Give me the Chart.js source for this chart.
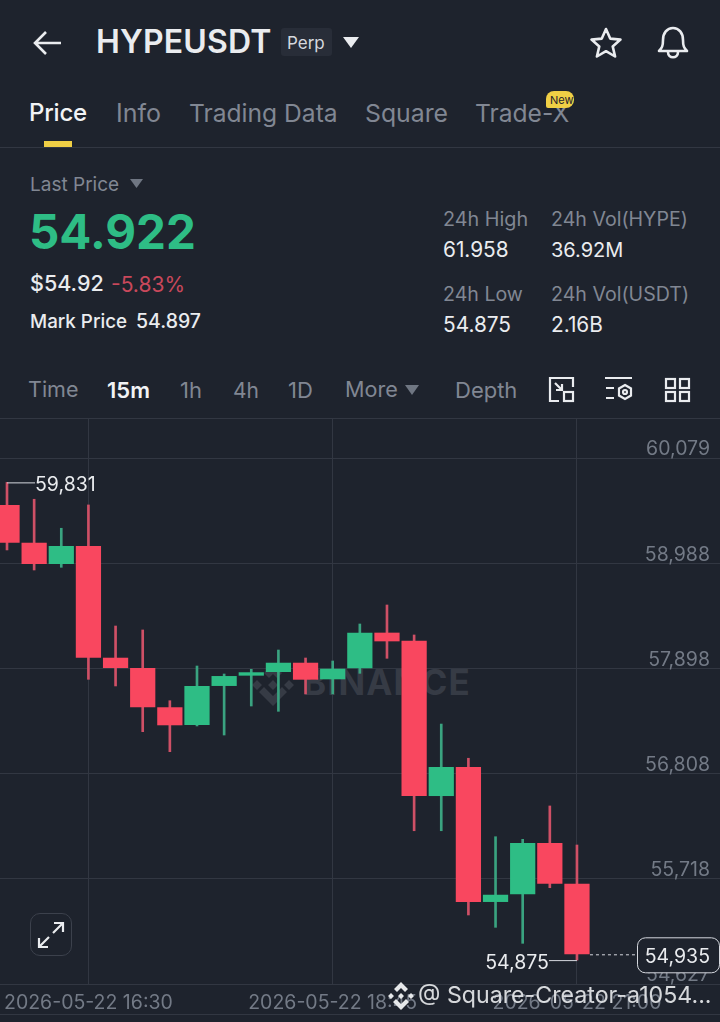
<!DOCTYPE html>
<html>
<head>
<meta charset="utf-8">
<title>HYPEUSDT Perp</title>
<script src="https://cdn.jsdelivr.net/npm/chart.js@4"></script>
<style>
  html, body { margin: 0; padding: 0; background: #1e232d; }
  body { position: relative; width: 720px; height: 1022px; overflow: hidden; font-family: Inter, "Noto Sans", sans-serif; color: #eaecef; }
  .t { position: absolute; white-space: nowrap; line-height: 1; transform: translateY(-50%); }
  .grey { color: #818793; }
  .line { position: absolute; left: 0; width: 720px; height: 1px; background: #323742; }
  svg { position: absolute; overflow: visible; }
  #wrap { position: absolute; left: 0; top: 418px; width: 720px; height: 596px; }
  #mark { position: absolute; left: 303px; top: 682px; font-size: 35px; font-weight: 700; letter-spacing: 1.2px; color: #363b45; transform: translateY(-50%); line-height: 1; }
</style>
</head>
<body>
  <!-- header -->
  <svg style="left:33px;top:30px" width="28" height="26" fill="none" stroke="#eaecef" stroke-width="2.6"><path d="M28 13H2M13 2L2 13l11 11"/></svg>
  <div class="t" style="left:96px;top:42px;font-size:32px;font-weight:600;letter-spacing:.15px">HYPEUSDT</div>
  <div style="position:absolute;left:281px;top:28px;width:51px;height:28px;background:#282d38;border-radius:3px"></div>
  <div class="t" style="left:287px;top:43px;font-size:17px;color:#d5d8de">Perp</div>
  <svg style="left:343px;top:37px" width="16" height="11"><path d="M0 0H16L8 11Z" fill="#eaecef"/></svg>
  <svg style="left:590px;top:27px" width="32" height="31" fill="none" stroke="#eaecef" stroke-width="2.6" stroke-linejoin="round"><path d="M16 2l4.2 9.6 10.3 1-7.8 6.8 2.4 10.1L16 24.2 6.9 29.5l2.4-10.1L1.5 12.6l10.3-1z"/></svg>
  <svg style="left:657px;top:26px" width="32" height="33" fill="none" stroke="#eaecef" stroke-width="2.6" stroke-linejoin="round"><path d="M2 25c3-3 4-5 4-11C6 7 10 2 16 2s10 5 10 12c0 6 1 8 4 11z"/><path d="M11 26c0 7 10 7 10 0"/></svg>

  <!-- tabs -->
  <div class="t" style="left:29px;top:113px;font-size:24px;font-weight:500;letter-spacing:-.2px;color:#f2f3f5">Price</div>
  <div class="t grey" style="left:116px;top:113px;font-size:25px">Info</div>
  <div class="t grey" style="left:189px;top:113px;font-size:24.6px">Trading Data</div>
  <div class="t grey" style="left:365px;top:113px;font-size:24.8px">Square</div>
  <div class="t grey" style="left:475px;top:113px;font-size:24.6px">Trade-X</div>
  <div style="position:absolute;left:546px;top:91px;width:28px;height:17px;background:#f0cf45;border-radius:8px 8px 8px 2px"></div>
  <div class="t" style="left:550px;top:100px;font-size:11px;color:#1e232d">New</div>
  <div style="position:absolute;left:44px;top:141px;width:28px;height:6px;background:#f0cf45"></div>
  <div class="line" style="top:147px"></div>

  <!-- price block -->
  <div class="t grey" style="left:30px;top:184px;font-size:19px">Last Price</div>
  <svg style="left:130px;top:179px" width="13" height="9"><path d="M0 0H13L6.5 9Z" fill="#6f7682"/></svg>
  <div class="t" style="left:29px;top:232px;font-size:47.5px;font-weight:700;color:#2ebd85">54.922</div>
  <div class="t" style="left:30px;top:284px;font-size:21.5px;font-weight:500">$54.92</div>
  <div class="t" style="left:111px;top:284px;font-size:21px;color:#c9485b">-5.83%</div>
  <div class="t" style="left:30px;top:322px;font-size:18.8px;font-weight:500">Mark Price</div>
  <div class="t" style="left:136px;top:322px;font-size:19.5px;font-weight:500">54.897</div>

  <div class="t grey" style="left:443px;top:219.5px;font-size:19.8px">24h High</div>
  <div class="t grey" style="left:551px;top:219.5px;font-size:19.6px">24h Vol(HYPE)</div>
  <div class="t" style="left:443px;top:249.5px;font-size:20.8px">61.958</div>
  <div class="t" style="left:551px;top:249.5px;font-size:20px">36.92M</div>
  <div class="t grey" style="left:443px;top:294.5px;font-size:19.6px">24h Low</div>
  <div class="t grey" style="left:551px;top:294.5px;font-size:19.6px">24h Vol(USDT)</div>
  <div class="t" style="left:443px;top:324.5px;font-size:20.8px">54.875</div>
  <div class="t" style="left:551px;top:324.5px;font-size:20.8px">2.16B</div>

  <!-- interval row -->
  <div class="t grey" style="left:28px;top:390px;font-size:21.5px">Time</div>
  <div class="t" style="left:107px;top:390px;font-size:22px;font-weight:600;color:#f2f3f5">15m</div>
  <div class="t grey" style="left:180px;top:390px;font-size:22px">1h</div>
  <div class="t grey" style="left:233px;top:390px;font-size:21px">4h</div>
  <div class="t grey" style="left:288px;top:390px;font-size:22px">1D</div>
  <div class="t grey" style="left:345px;top:390px;font-size:21.6px">More</div>
  <svg style="left:405px;top:385px" width="14" height="10"><path d="M0 0H14L7 10Z" fill="#6f7682"/></svg>
  <div class="t grey" style="left:455px;top:390px;font-size:22px">Depth</div>
  <svg style="left:549px;top:377px" width="25" height="25" fill="none" stroke="#eaecef" stroke-width="2.2"><path d="M10 24H1V1h23v9"/><rect x="15" y="15" width="9" height="9"/><path d="M6 6l7 7M13 7v6H7"/></svg>
  <svg style="left:605px;top:377px" width="27" height="25" fill="none" stroke="#eaecef" stroke-width="2.2"><path d="M0 1h27M1 11h8M1 21h8"/><path d="M20 8l6 3.5v7L20 22l-6-3.5v-7z"/><circle cx="20" cy="15" r="2"/></svg>
  <svg style="left:665px;top:378px" width="25" height="24" fill="none" stroke="#eaecef" stroke-width="2.2"><rect x="1" y="1" width="9" height="9"/><rect x="15" y="1" width="9" height="9"/><rect x="1" y="14" width="9" height="9"/><rect x="15" y="14" width="9" height="9"/></svg>
  <div class="line" style="top:418px"></div>

  <!-- watermark sits under the transparent canvas -->
  <svg style="left:253px;top:664px" width="40" height="40" fill="#363b45"><path d="M20 0l9 9-5 5-4-4-4 4-5-5zM4 16l5 5-5 5-5-5zM36 16l5 5-5 5-5-5zM20 16l5 5-5 5-5-5zM11 23l9 9 9-9 5 5-14 14L6 28z"/></svg>
  <div id="mark">BINANCE</div>

  <div id="wrap"><canvas id="kline"></canvas></div>
  <div class="line" style="top:1014px"></div>

  <!-- fullscreen button -->
  <div style="position:absolute;left:30px;top:913px;width:40px;height:41px;border:1.5px solid #3c414c;border-radius:10px"></div>
  <svg style="left:38px;top:922px" width="26" height="26" fill="none" stroke="#eaecef" stroke-width="2.2"><path d="M15 11L25 1M16 1h9v9M11 15L1 25M1 16v9h9"/></svg>

  <!-- repost watermark -->
  <svg style="left:388px;top:982px" width="26" height="28" fill="#e6e8ea"><path d="M13 0l7 7-3 3-4-4-4 4-3-3zM3 11l3 3-3 3-3-3zM23 11l3 3-3 3-3-3zM13 11l3 3-3 3-3-3zM8 17l5 5 5-5 3 3-8 8-8-8z"/></svg>
  <div class="t" style="left:418px;top:996px;font-size:23.2px;color:rgba(230,232,234,.92)">@ Square-Creator-a1054...</div>

<script>
// 15m klines
const TIMES = [
    '2026-05-22 15:45', '2026-05-22 16:00', '2026-05-22 16:15', '2026-05-22 16:30',
    '2026-05-22 16:45', '2026-05-22 17:00', '2026-05-22 17:15', '2026-05-22 17:30',
    '2026-05-22 17:45', '2026-05-22 18:00', '2026-05-22 18:15', '2026-05-22 18:30',
    '2026-05-22 18:45', '2026-05-22 19:00', '2026-05-22 19:15', '2026-05-22 19:30',
    '2026-05-22 19:45', '2026-05-22 20:00', '2026-05-22 20:15', '2026-05-22 20:30',
    '2026-05-22 20:45', '2026-05-22 21:00'
];
const OPENS = [59597, 59205, 58984, 59171, 58012, 57905, 57498, 57314, 57719, 57826, 57864, 57960, 57788, 57902, 58272, 58189, 56577, 56878, 55478, 55558, 56090, 55668];
const HIGHS = [59831, 59656, 59355, 59597, 58341, 58300, 57566, 57926, 57843, 57892, 58092, 58009, 57978, 58362, 58559, 58248, 57324, 56969, 56155, 56128, 56474, 56069];
const LOWS = [59130, 58922, 58950, 57788, 57719, 57245, 57037, 57304, 57210, 57511, 57456, 57636, 57636, 57850, 58006, 56217, 56217, 55343, 55215, 55049, 55626, 54875];
const CLOSES = [59205, 58984, 59171, 58012, 57905, 57498, 57311, 57719, 57822, 57861, 57960, 57784, 57898, 58272, 58182, 56577, 56878, 55478, 55553, 56090, 55668, 54935];

const PRICE_TICKS = [60079, 58988, 57898, 56808, 55718, 54627];
const TIME_TICKS = [3, 12, 21];

const UP = '#2ebd85';
const DOWN = '#f9475f';
const UP_WICK = '#3aa380';
const DOWN_WICK = '#cf5066';
const GRID = '#323742';
const AXIS_TEXT = '#737a86';
const TEXT = '#eaecef';
const BG = '#1e232d';
const FONT = 'Inter, "Noto Sans", sans-serif';

const fmt = v => v.toLocaleString('en-US');
const isUp = OPENS.map((o, i) => CLOSES[i] >= o);

// high / low / last price markers
const markers = {
    id: 'markers',
    afterDraw(chart) {
        const { ctx, scales: { x, y } } = chart;
        const last = OPENS.length - 1;
        ctx.save();
        ctx.font = '19.5px ' + FONT;
        ctx.textBaseline = 'middle';
        ctx.lineWidth = 1;

        // highest
        const hx = x.getPixelForValue(0), hy = y.getPixelForValue(HIGHS[0]);
        ctx.strokeStyle = '#d5d8de';
        ctx.beginPath(); ctx.moveTo(hx, hy + .5); ctx.lineTo(hx + 28, hy + .5); ctx.stroke();
        ctx.fillStyle = TEXT;
        ctx.textAlign = 'left';
        ctx.fillText(fmt(HIGHS[0]), hx + 28, hy + 3);

        // lowest
        const lx = x.getPixelForValue(last), ly = y.getPixelForValue(LOWS[last]);
        ctx.beginPath(); ctx.moveTo(lx, ly + .5); ctx.lineTo(lx - 28, ly + .5); ctx.stroke();
        ctx.textAlign = 'right';
        ctx.fillText(fmt(LOWS[last]), lx - 28, ly + 3);

        // last price box
        const py = y.getPixelForValue(CLOSES[last]);
        ctx.setLineDash([3, 3]);
        ctx.beginPath(); ctx.moveTo(lx + 13, py + .5); ctx.lineTo(637, py + .5); ctx.stroke();
        ctx.setLineDash([]);
        ctx.fillStyle = BG;
        ctx.beginPath(); ctx.roundRect(637.5, py - 16.5, 82, 35, 8); ctx.fill(); ctx.stroke();
        ctx.fillStyle = TEXT;
        ctx.textAlign = 'right';
        ctx.fillText(fmt(CLOSES[last]), 710, py + 3);
        ctx.restore();
    }
};

new Chart(document.getElementById('kline'), {
    type: 'bar',
    data: {
        datasets: [
            {
                label: 'Body',
                data: OPENS.map((o, i) => ({ x: i, y: [o, CLOSES[i]] })),
                backgroundColor: isUp.map(u => u ? UP : DOWN),
                barPercentage: 0.93,
                categoryPercentage: 1,
                order: 1
            },
            {
                label: 'Wick',
                data: HIGHS.map((h, i) => ({ x: i, y: [LOWS[i], h] })),
                backgroundColor: isUp.map(u => u ? UP_WICK : DOWN_WICK),
                barThickness: 2,
                order: 2
            }
        ]
    },
    options: {
        responsive: true,
        maintainAspectRatio: false,
        animation: false,
        grouped: false,
        layout: { padding: 0 },
        plugins: { legend: { display: false }, tooltip: { enabled: false } },
        scales: {
            x: {
                type: 'linear',
                offset: false,
                min: -0.258,
                max: 26.27,
                afterBuildTicks: s => { s.ticks = TIME_TICKS.map(v => ({ value: v })); },
                afterFit: s => { s.height = 30; s.paddingLeft = 0; s.paddingRight = 0; },
                grid: { color: GRID, drawTicks: false, offset: false },
                border: { color: GRID },
                ticks: {
                    color: AXIS_TEXT,
                    font: { family: FONT, size: 19.5 },
                    padding: 7,
                    maxRotation: 0,
                    autoSkip: false,
                    callback: v => TIMES[v]
                }
            },
            y: {
                position: 'right',
                min: 54627,
                max: 60499,
                afterBuildTicks: s => { s.ticks = PRICE_TICKS.map(v => ({ value: v })); },
                afterFit: s => { s.width = 0; s.paddingTop = 0; s.paddingBottom = 0; },
                grid: { color: GRID, drawTicks: false },
                border: { display: false },
                ticks: {
                    color: AXIS_TEXT,
                    font: { family: FONT, size: 19.5 },
                    mirror: true,
                    padding: -10,
                    labelOffset: -9,
                    callback: fmt
                }
            }
        }
    },
    plugins: [markers]
});
</script>
</body>
</html>
